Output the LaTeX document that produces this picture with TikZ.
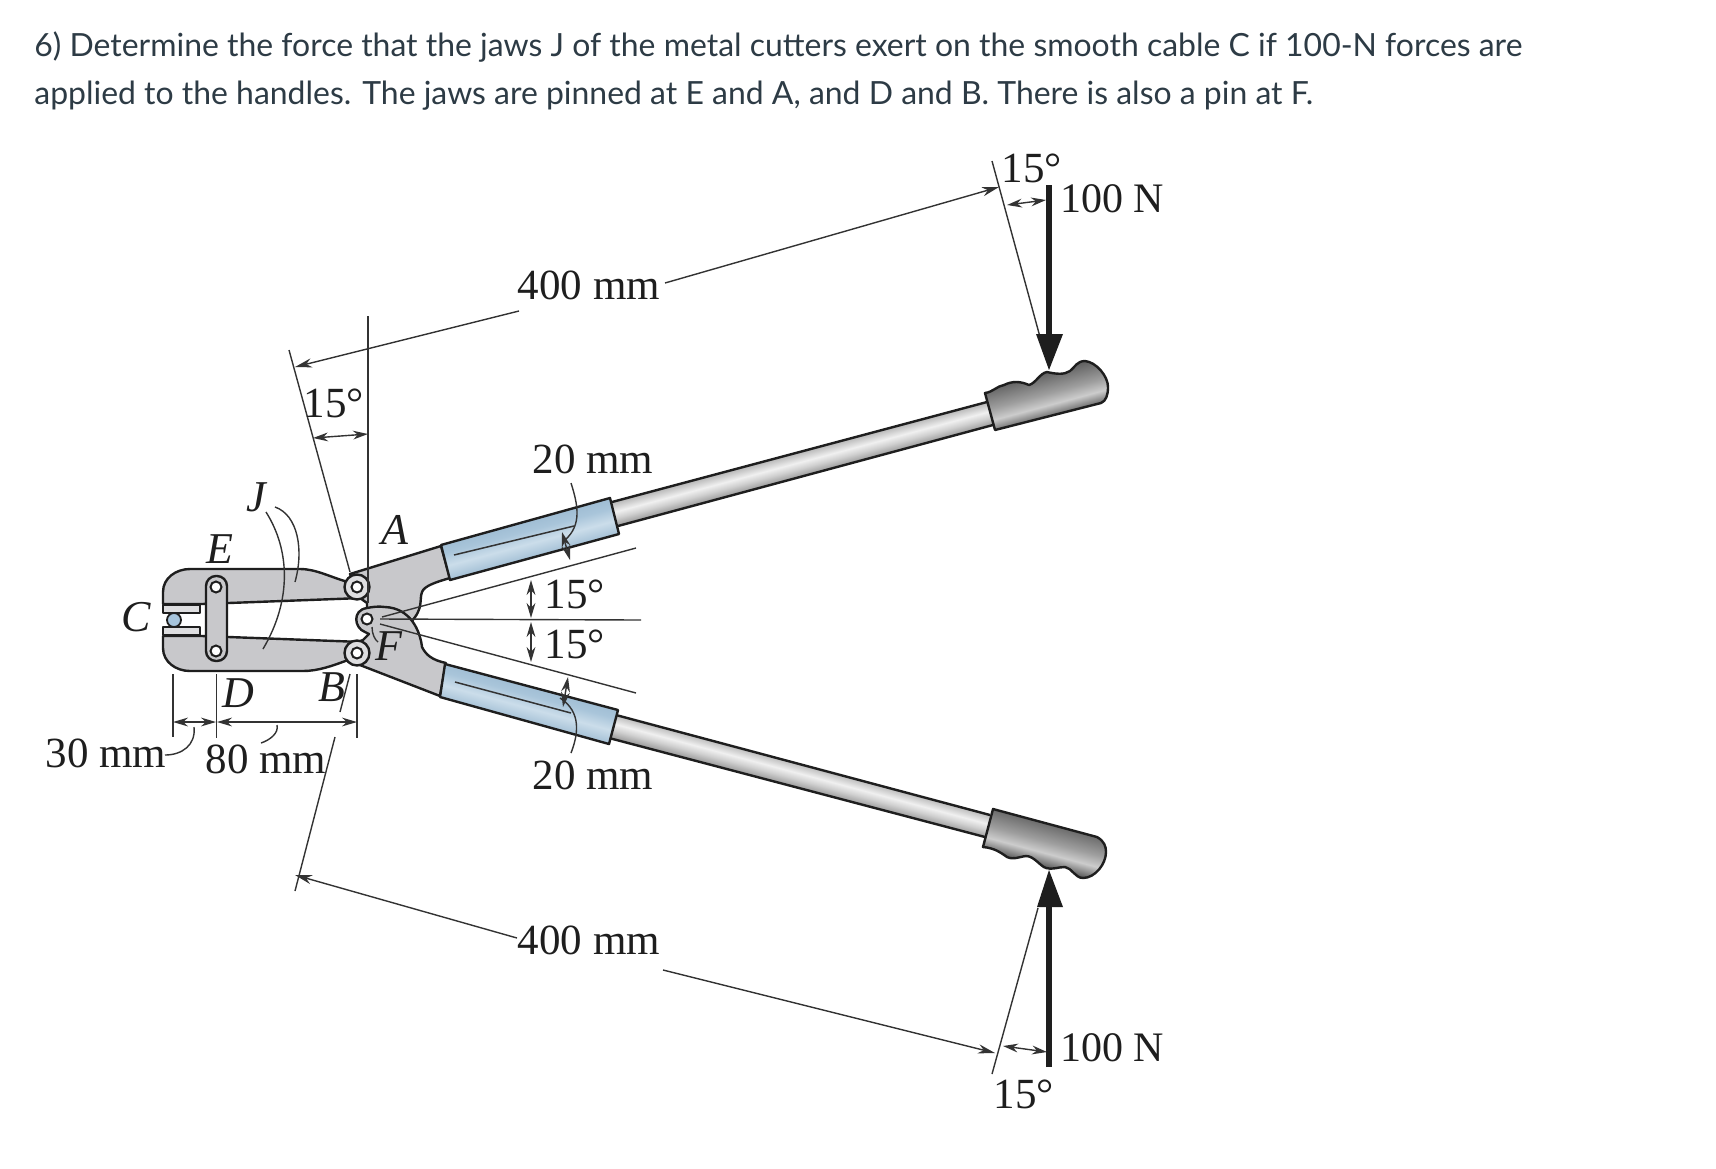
\documentclass[tikz,border=0pt]{standalone}
\usepackage{fontspec}
\setmainfont{Liberation Serif}
\newfontfamily\titlefont{Lato}
\usetikzlibrary{arrows.meta}
\definecolor{ink}{HTML}{1E1E1E}
\definecolor{thin}{HTML}{333333}
\definecolor{steel}{HTML}{C8C8CB}
\definecolor{pale}{HTML}{DEDEE0}
\definecolor{ballblue}{HTML}{A6C4DC}
\definecolor{titlecol}{HTML}{2D3B45}
\definecolor{ra}{HTML}{9A9A9A}\definecolor{rb}{HTML}{D0D0D0}\definecolor{rc}{HTML}{F0F0F0}\definecolor{rd}{HTML}{B8B8B8}
\definecolor{ga}{HTML}{555555}\definecolor{gb}{HTML}{CCCCCC}\definecolor{gc}{HTML}{9E9E9E}\definecolor{gd}{HTML}{5E5E5E}
\definecolor{sa}{HTML}{9DBBD2}\definecolor{sb}{HTML}{CBDDEA}\definecolor{sc}{HTML}{A9C5DA}\definecolor{sd}{HTML}{9DBBD2}
\pgfdeclareverticalshading{rodshade}{100bp}{color(0bp)=(ra);color(25bp)=(ra);color(42bp)=(rb);color(55bp)=(rc);color(75bp)=(rd);color(100bp)=(rd)}
\pgfdeclareverticalshading{gripshade}{100bp}{color(0bp)=(ga);color(25bp)=(ga);color(40bp)=(gb);color(52bp)=(gc);color(75bp)=(gd);color(100bp)=(gd)}
\pgfdeclareverticalshading{sleeveshade}{100bp}{color(0bp)=(sa);color(25bp)=(sa);color(45bp)=(sb);color(60bp)=(sc);color(75bp)=(sd);color(100bp)=(sd)}
\newcommand{\gradfill}[6]{%
  \begin{scope}\clip #1;
  \begin{scope}[transform canvas={rotate around={#5:(#3,#4)}}]
  \shade[shading=#2] ({#3-220},{#4-#6}) rectangle ({#3+220},{#4+#6});
  \end{scope}\end{scope}}
\tikzset{
  titletext/.style={anchor=base west,inner sep=0pt,text=titlecol,font=\fontsize{15.97}{19}\selectfont\titlefont},
  lab/.style={inner sep=0pt,text=ink,font=\fontsize{21.5}{24}\selectfont},
  forcelab/.style={inner sep=0pt,text=ink,font=\fontsize{21}{24}\selectfont},
  letter/.style={inner sep=0pt,text=ink,font=\fontsize{22}{24}\selectfont\itshape},
  outline/.style={draw=ink,line width=1.2pt,line join=round},
  thinline/.style={draw=thin,line width=.7pt},
  dimarrow/.style={thinline,-{Stealth[length=8.5pt,width=4.6pt]}},
  dimboth/.style={thinline,{Stealth[length=7.5pt,width=4.4pt]}-{Stealth[length=7.5pt,width=4.4pt]}},
  collar/.style={outline,fill=pale},
  pinhole/.style={draw=ink,line width=1pt,fill=white},
  forcehead/.style={fill=ink,draw=none},
  forceshaft/.style={draw=ink,line width=3.4pt}
}
\begin{document}
\begin{tikzpicture}[x=0.5pt,y=-0.5pt]
\useasboundingbox (0,0) rectangle (1716,1168);
\fill[white] (0,0) rectangle (1716,1168);
% title
\node[titletext] (t1) at (34,56) {6) Determine the force that the jaws J of the metal cutters exert on the smooth cable C if 100-N forces are};
\node[titletext] (t2) at (34,104) {applied to the handles. The jaws are pinned at E and A, and D and B. There is also a pin at F.};
% rods
\def\rodU{(612,502) -- (987,402) -- (993,425) -- (618,526) -- cycle}
\gradfill{\rodU}{rodshade}{802}{464}{15}{12}
\draw[outline] (612,502) -- (987,402) (993,425) -- (618,526);
\def\rodL{(616,715) -- (990,815) -- (985,837) -- (609,738) -- cycle}
\gradfill{\rodL}{rodshade}{800}{776}{-15}{12}
\draw[outline] (616,715) -- (990,815) (985,837) -- (609,738);
% grips
\def\gripU{(985,393) .. controls (993,392) and (997,386) .. (1004,385) .. controls (1012,381) and (1020,381) .. (1029,385) .. controls (1036,383) and (1040,373) .. (1047,372) .. controls (1056,374) and (1064,375) .. (1070,371) .. controls (1075,367) and (1077,361) .. (1085,361) .. controls (1096,362) and (1108,376) .. (1108,387) .. controls (1108,395) and (1106,401) .. (1101,403) -- (995,430) -- cycle}
\gradfill{\gripU}{gripshade}{1045}{396}{15}{24}
\draw[outline] \gripU;
\def\gripL{(993,809) -- (1097,837) .. controls (1104,841) and (1106,846) .. (1106,852) .. controls (1106,864) and (1095,878) .. (1083,878) .. controls (1075,878) and (1072,868) .. (1065,867) .. controls (1058,867) and (1052,870) .. (1046,868) .. controls (1040,866) and (1034,856) .. (1026,856) .. controls (1018,857) and (1014,860) .. (1007,857) .. controls (1000,852) and (994,848) .. (983,847) -- cycle}
\gradfill{\gripL}{gripshade}{1045}{843}{-15}{24}
\draw[outline] \gripL;
% upper handle
\draw[outline,fill=steel] (350,574) -- (441,546) -- (450,578) .. controls (436,582) and (424,586) .. (422,592) .. controls (419,600) and (424,608) .. (411,622) -- (367,622) -- (367,603) -- (360,598) -- cycle;
% lower handle with F lobe
\draw[outline,fill=steel] (347,660) -- (440,696) -- (446,663) .. controls (432,660) and (426,655) .. (422,647) .. controls (420,630) and (410,608) .. (385,607) .. controls (378,606) and (372,607) .. (367,608) .. controls (352,610) and (354,628) .. (365,632) -- (369,634) -- (363,640) -- (347,646) -- cycle;
% upper jaw
\draw[outline,fill=steel] (163,604) -- (163,592) .. controls (163,578) and (176,569) .. (190,569) -- (300,569) .. controls (316,569) and (330,577) .. (348,582) -- (362,598) -- (202,604) -- cycle;
\draw[outline,fill=pale,line width=.7pt] (163,605) rectangle (200,613);
% lower jaw
\draw[outline,fill=steel] (163,636) -- (163,648) .. controls (163,662) and (176,671) .. (190,671) -- (303,671) .. controls (318,671) and (332,666) .. (348,660) -- (362,642) -- (202,636) -- cycle;
\draw[outline,fill=pale,line width=.7pt] (163,627) rectangle (200,635);
% cable
\draw[draw=ink,line width=.9pt,fill=ballblue] (174,620) circle (7);
% link
\draw[outline,fill=steel,rounded corners=5pt] (206,576) rectangle (227,661);
\draw[pinhole] (216,587) circle (5.5);
\draw[pinhole] (216,651) circle (5.5);
% pin collars
\draw[collar] (357,587) circle (12.5);
\draw[pinhole] (357,587) circle (5.5);
\draw[collar] (357,653) circle (12.5);
\draw[pinhole] (357,653) circle (5.5);
\draw[pinhole] (367,619) circle (5.5);
% sleeves
\def\slU{(441,545) -- (610,498) -- (619,534) -- (450,580) -- cycle}
\gradfill{\slU}{sleeveshade}{530}{539}{15}{21}
\draw[outline] \slU;
\draw[draw=thin,line width=.75pt] (454,555) -- (574,526);
\def\slL{(445,664) -- (618,710) -- (609,744) -- (440,697) -- cycle}
\gradfill{\slL}{sleeveshade}{530}{704}{-15}{21}
\draw[outline] \slL;
\draw[draw=thin,line width=.75pt] (455,682) -- (571,713);
% 15 degree construction lines
\draw[thinline] (380,619) -- (641,620);
\draw[thinline] (382,617) -- (636,548);
\draw[thinline] (380,624) -- (636,693);
\draw[dimboth] (531,580) -- (531,618);
\draw[dimboth] (531,622) -- (531,662);
% 20 mm
\draw[dimboth] (562,532) -- (570,560);
\draw[thinline] (571,483) .. controls (578,505) and (582,525) .. (565,540);
\draw[dimboth] (568,677) -- (563,707);
\draw[thinline] (571,753) .. controls (578,735) and (582,712) .. (560,698);
% top dimensions
\draw[thinline] (289,350) -- (350,572);
\draw[thinline] (368,316) -- (368,603);
\draw[dimboth] (313,438) -- (368,434);
\draw[dimarrow] (519,311) -- (295,367);
\draw[dimarrow] (665,283) -- (999,187);
\draw[thinline] (992,161) -- (1040,337);
\draw[dimboth] (1007,205) -- (1046,200);
% upper force
\draw[forceshaft] (1049,185) -- (1049,340);
\fill[forcehead] (1036,334) -- (1063,334) -- (1049,370) -- cycle;
% lower force
\draw[forceshaft] (1049,1067) -- (1049,900);
\fill[forcehead] (1037,907) -- (1063,907) -- (1049,870) -- cycle;
\draw[thinline] (992,1074) -- (1038,908);
\draw[dimboth] (1003,1046) -- (1047,1052);
\draw[dimarrow] (663,970) -- (995,1053);
\draw[dimarrow] (517,938) -- (295,875);
\draw[thinline] (335,737) -- (295,891);
\draw[thinline] (350,674) -- (340,712);
% bottom-left dimensions
\draw[thinline] (173,674) -- (173,737);
\draw[thinline] (216.5,674) -- (216.5,738);
\draw[thinline] (357,674) -- (357,738);
\draw[dimboth] (173,722) -- (216,722);
\draw[dimboth] (217,722) -- (357,722);
\draw[thinline] (165,755) .. controls (182,755) and (196,745) .. (194,727);
\draw[thinline] (261,743) .. controls (270,740) and (279,733) .. (277,725);
% J leaders
\draw[thinline] (266,512) .. controls (290,550) and (292,600) .. (263,649);
\draw[thinline] (275,507) .. controls (298,515) and (304,550) .. (295,582);
\draw[thinline] (372,627) .. controls (372,634) and (375,640) .. (378,642);
% labels
\node[lab] (n400a) at (589,285) {400 mm};
\node[lab] (n400b) at (589,940) {400 mm};
\node[lab] (n20a) at (593,459) {20 mm};
\node[lab] (n20b) at (593,775) {20 mm};
\node[lab] (n15a) at (575,594) {15°};
\node[lab] (n15b) at (575,644) {15°};
\node[lab] (n15c) at (334,403) {15°};
\node[lab] (n15d) at (1032,168) {15°};
\node[lab] (n15e) at (1024,1094) {15°};
\node[forcelab] (f1) at (1112,199) {100 N};
\node[forcelab] (f2) at (1112,1048) {100 N};
\node[lab] (n30) at (106,753) {30 mm};
\node[lab] (n80) at (266,759) {80 mm};
\node[letter] (J) at (256,497) {J};
\node[letter] (E) at (220,549) {E};
\node[letter] (C) at (136,617) {C};
\node[letter] (A) at (395,530) {A};
\node[letter] (F) at (389,646) {F};
\node[letter] (D) at (238,693) {D};
\node[letter] (B) at (332,687) {B};
\end{tikzpicture}
\end{document}
